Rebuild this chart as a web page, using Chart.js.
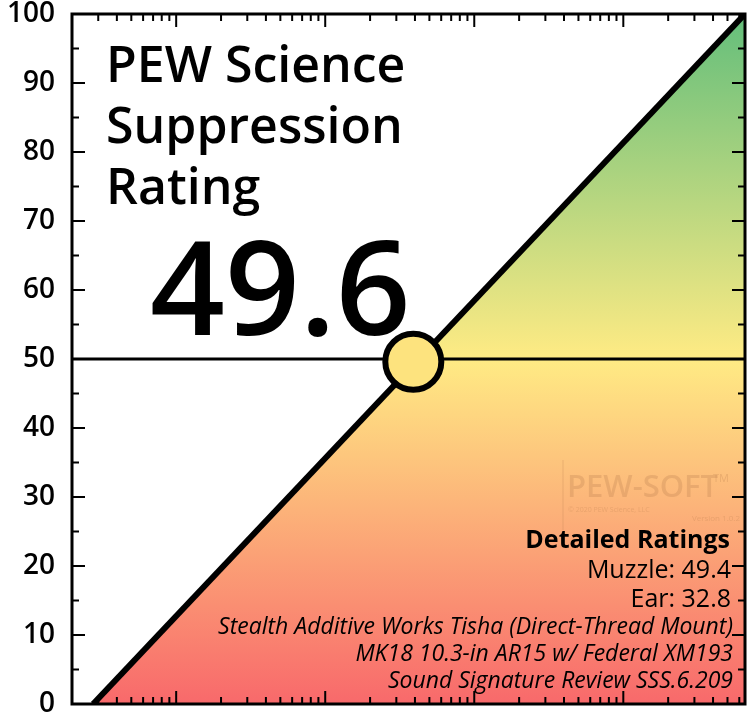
<!doctype html>
<html lang="en">
<head>
    <meta charset="utf-8">
    <title>PEW Science Suppression Rating</title>
    <style>
        * { margin: 0; padding: 0; }
        body { background: #fff; }
        .chartBox { width: 750px; height: 718px; }
    </style>
</head>
<body>
    <div class="chartBox">
        <canvas id="myChart" width="750" height="718"></canvas>
    </div>

    <script src="https://cdn.jsdelivr.net/npm/chart.js"></script>
    <script>
        // data
        const xRange = [2, 65536];
        const diagonalX = [2.77, 65536];
        const diagonalY = [0, 100];
        const midLineX = [2, 65536];
        const midLineY = [50, 50];
        const ratingX = [390];
        const ratingY = [49.6];
        const yTicks = [0, 10, 20, 30, 40, 50, 60, 70, 80, 90, 100];
        const yMinorTicks = [5, 15, 25, 35, 45, 55, 65, 75, 85, 95];
        const xDecades = [1, 10, 100, 1000, 10000];
        const xSteps = [1, 2, 3, 4, 5, 6, 7, 8, 9];

        const titleLines = ['PEW Science', 'Suppression', 'Rating'];
        const ratingText = '49.6';
        const detailHeader = 'Detailed Ratings';
        const detailLines = ['Muzzle: 49.4', 'Ear: 32.8'];
        const infoLines = [
            'Stealth Additive Works Tisha (Direct-Thread Mount)',
            'MK18 10.3-in AR15 w/ Federal XM193',
            'Sound Signature Review SSS.6.209'
        ];

        const FONT = '"Open Sans", "Noto Sans", sans-serif';

        function pairs(xs, ys) {
            return xs.map((x, i) => ({ x: x, y: ys[i] }));
        }

        function fillGradient(context) {
            const chart = context.chart;
            const a = chart.chartArea;
            if (!a) return null;
            const g = chart.ctx.createLinearGradient(0, a.bottom, 0, a.top);
            g.addColorStop(0, '#F8696B');
            g.addColorStop(0.5, '#FFEB84');
            g.addColorStop(1, '#63BE7B');
            return g;
        }

        // inward ticks on all four sides + frame
        const frameTicks = {
            id: 'frameTicks',
            afterDraw(chart) {
                const { ctx, chartArea: a, scales } = chart;
                const x = scales.x, y = scales.y;
                ctx.save();
                ctx.strokeStyle = '#000';
                ctx.lineWidth = 2;
                ctx.beginPath();
                yTicks.concat(yMinorTicks).forEach(function (v) {
                    const py = y.getPixelForValue(v);
                    const len = v % 10 === 0 ? 13 : 7;
                    ctx.moveTo(a.left, py); ctx.lineTo(a.left + len, py);
                    ctx.moveTo(a.right, py); ctx.lineTo(a.right - len, py);
                });
                xDecades.forEach(function (d) {
                    xSteps.forEach(function (s) {
                        const v = d * s;
                        if (v <= xRange[0] || v >= xRange[1]) return;
                        const px = x.getPixelForValue(v);
                        const len = s === 1 ? 13 : 7;
                        ctx.moveTo(px, a.top); ctx.lineTo(px, a.top + len);
                        ctx.moveTo(px, a.bottom); ctx.lineTo(px, a.bottom - len);
                    });
                });
                ctx.stroke();
                ctx.lineWidth = 3;
                ctx.strokeRect(a.left, a.top, a.right - a.left, a.bottom - a.top);
                ctx.restore();
            }
        };

        // titles, rating and details
        const textBlocks = {
            id: 'textBlocks',
            afterDatasetsDraw(chart) {
                const ctx = chart.ctx;
                ctx.save();
                ctx.fillStyle = '#000';
                ctx.textBaseline = 'alphabetic';

                ctx.textAlign = 'left';
                ctx.font = '600 50px ' + FONT;
                titleLines.forEach(function (t, i) {
                    ctx.fillText(t, 106, 82 + i * 61);
                });

                ctx.font = '600 131px ' + FONT;
                ctx.fillText(ratingText, 150, 335);

                // watermark
                ctx.fillStyle = 'rgba(190, 130, 80, 0.3)';
                ctx.font = '600 31px ' + FONT;
                ctx.fillText('PEW-SOFT', 567, 497);
                ctx.font = '11px ' + FONT;
                ctx.fillText('TM', 713, 482);
                ctx.font = '7px ' + FONT;
                ctx.fillText('\u00a9 2020 PEW Science, LLC', 568, 512);
                ctx.textAlign = 'right';
                ctx.font = '8px ' + FONT;
                ctx.fillText('Version 1.0.2', 740, 521);
                ctx.strokeStyle = 'rgba(190, 130, 80, 0.3)';
                ctx.lineWidth = 1;
                ctx.beginPath();
                ctx.moveTo(563, 460); ctx.lineTo(563, 530);
                ctx.stroke();

                ctx.fillStyle = '#000';
                ctx.textAlign = 'right';
                ctx.font = 'bold 25px ' + FONT;
                ctx.fillText(detailHeader, 730, 548);
                ctx.font = '25px ' + FONT;
                detailLines.forEach(function (t, i) {
                    ctx.fillText(t, 731, 578 + i * 29);
                });
                ctx.font = 'italic 23px ' + FONT;
                infoLines.forEach(function (t, i) {
                    ctx.fillText(t, 733, 634 + i * 27);
                });
                ctx.restore();
            }
        };

        const data = {
            datasets: [
                {
                    label: 'Rating',
                    data: pairs(ratingX, ratingY),
                    showLine: false,
                    pointRadius: 28,
                    pointBorderWidth: 6,
                    pointBackgroundColor: '#FDE37E',
                    pointBorderColor: '#000',
                    order: 0
                },
                {
                    label: 'Midline',
                    data: pairs(midLineX, midLineY),
                    showLine: true,
                    borderColor: '#000',
                    borderWidth: 3,
                    pointRadius: 0,
                    fill: false,
                    order: 1
                },
                {
                    label: 'Scale',
                    data: pairs(diagonalX, diagonalY),
                    showLine: true,
                    borderColor: '#000',
                    borderWidth: 6,
                    pointRadius: 0,
                    fill: 'start',
                    backgroundColor: fillGradient,
                    order: 2
                }
            ]
        };

        const config = {
            type: 'scatter',
            data,
            options: {
                responsive: false,
                animation: false,
                layout: { autoPadding: false, padding: { top: 14, right: 5, bottom: 0, left: 0 } },
                plugins: {
                    legend: { display: false },
                    tooltip: { enabled: false }
                },
                scales: {
                    x: {
                        type: 'logarithmic',
                        min: xRange[0],
                        max: xRange[1],
                        grid: { display: false },
                        border: { display: false },
                        ticks: { display: false },
                        afterFit(scale) { scale.height = 14; }
                    },
                    y: {
                        min: 0,
                        max: 100,
                        grid: { display: false, drawTicks: false },
                        border: { display: false },
                        ticks: {
                            stepSize: 10,
                            padding: 17,
                            color: '#000',
                            font: { family: FONT, size: 28, weight: '600', lineHeight: 1 }
                        },
                        afterFit(scale) {
                            scale.width = 72;
                            scale.paddingTop = 0;
                            scale.paddingBottom = 0;
                        }
                    }
                }
            },
            plugins: [frameTicks, textBlocks]
        };

        window.chart = new Chart(document.getElementById('myChart'), config);
    </script>
</body>
</html>
